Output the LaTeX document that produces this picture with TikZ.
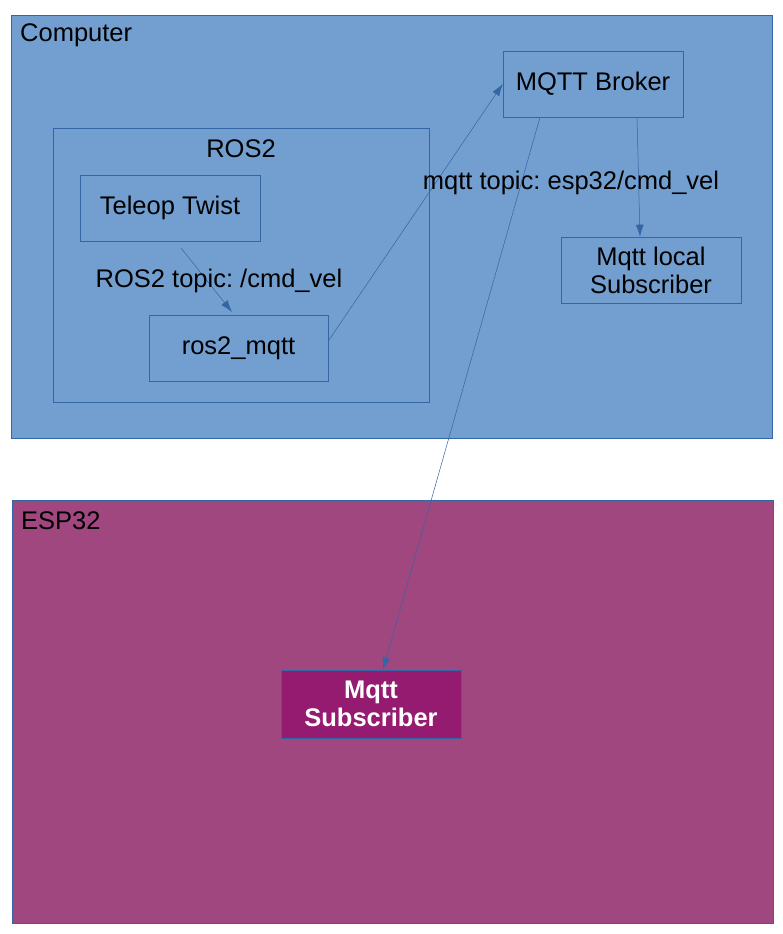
\documentclass[tikz,border=0pt]{standalone}
\usepackage{fontspec}
\setmainfont{Liberation Sans}
\usetikzlibrary{arrows.meta}
\definecolor{bl}{HTML}{729FCF}
\definecolor{bd}{HTML}{3465A4}
\definecolor{esp}{HTML}{A0477F}
\definecolor{sub}{HTML}{951B70}
\frenchspacing
\begin{document}
\begin{tikzpicture}[x=1pt,y=-1pt,
  box/.style={draw=bd,line width=0.6pt,inner sep=0pt},
  fnt/.style={font=\fontsize{25.5}{28}\selectfont},
  arr/.style={draw=bd,line width=0.5pt,-{Latex[length=12pt,width=8pt]}}]
\useasboundingbox (0,0) rectangle (783,934);
\draw[box,fill=bl] (11,15) rectangle (772,438);
\node[fnt,anchor=west,inner sep=0pt] (ct) at (20,35) {Computer};
\draw[box,fill=esp] (12,500) rectangle (773,923);
\node[fnt,anchor=west,inner sep=0pt] (et) at (21,521) {ESP32};
\draw[box] (53,128) rectangle (429,402);
\node[fnt] (rt) at (241,149) {ROS2};
\node[box,fnt,minimum width=180pt,minimum height=66pt] (tt) at (170,208) {\raisebox{-2pt}{Teleop Twist}};
\node[box,fnt,minimum width=179pt,minimum height=66pt] (rm) at (238.5,348) {\raisebox{-2pt}{ros2\_mqtt}};
\node[box,fnt,minimum width=180pt,minimum height=66pt] (mb) at (593,84) {\raisebox{-2pt}{MQTT Broker}};
\node[box,fnt,minimum width=180pt,minimum height=66pt,align=center] (ml) at (651,270) {Mqtt local\\Subscriber};
\node[box,fill=sub,text=white,font=\fontsize{25.5}{28}\selectfont\bfseries,minimum width=180pt,minimum height=68pt,align=center] (ms) at (371,704) {Mqtt\\Subscriber};
\coordinate (a1) at (181,248);
\draw[arr] (a1) -- (232,312);
\node[fnt] (l1) at (219,281) {ROS2 topic: /cmd\_vel};
\draw[arr] ([yshift=7pt]rm.east) -- (mb.west);
\node[fnt] (l2) at (571,183) {mqtt topic: esp32/cmd\_vel};
\draw[arr] ([xshift=44pt]mb.south) -- ([xshift=-11pt]ml.north);
\draw[arr] ([xshift=-53pt]mb.south) -- ([xshift=12pt]ms.north);
\end{tikzpicture}
\end{document}
